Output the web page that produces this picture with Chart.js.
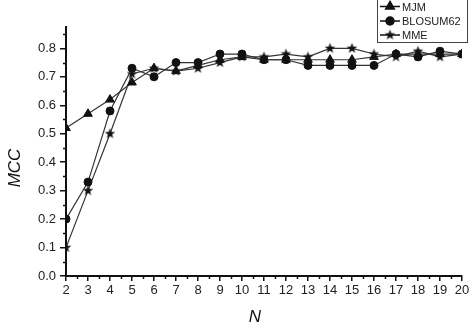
<!DOCTYPE html>
<html>
<head>
<meta charset="utf-8">
<script src="https://cdn.jsdelivr.net/npm/chart.js@4.4.1/dist/chart.umd.min.js"></script>
<style>
  html, body { margin: 0; padding: 0; background: #fff; }
  #wrap { width: 474px; height: 336px; }
</style>
</head>
<body>
<div id="wrap"><canvas id="chart" width="474" height="336"></canvas></div>
<script>
// valeurs
const nValues = [2, 3, 4, 5, 6, 7, 8, 9, 10, 11, 12, 13, 14, 15, 16, 17, 18, 19, 20];
const mjm = [0.52, 0.57, 0.62, 0.68, 0.73, 0.72, 0.74, 0.76, 0.77, 0.76, 0.76, 0.76, 0.76, 0.76, 0.77, 0.78, 0.78, 0.78, 0.78];
const blosum62 = [0.20, 0.33, 0.58, 0.73, 0.70, 0.75, 0.75, 0.78, 0.78, 0.76, 0.76, 0.74, 0.74, 0.74, 0.74, 0.78, 0.77, 0.79, 0.78];
const mme = [0.10, 0.30, 0.50, 0.71, 0.73, 0.72, 0.73, 0.75, 0.77, 0.77, 0.78, 0.77, 0.80, 0.80, 0.78, 0.77, 0.79, 0.77, 0.78];
const yTicks = [0, 0.1, 0.2, 0.3, 0.4, 0.5, 0.6, 0.7, 0.8];
const xMinor = [2.5, 3.5, 4.5, 5.5, 6.5, 7.5, 8.5, 9.5, 10.5, 11.5, 12.5, 13.5, 14.5, 15.5, 16.5, 17.5, 18.5, 19.5];
const yMinor = [0.05, 0.15, 0.25, 0.35, 0.45, 0.55, 0.65, 0.75, 0.85];

const INK = '#111';
const FONT = "'Liberation Sans', Arial, sans-serif";

// étoile pleine pour la série MME
function makeStar(r) {
  const size = r * 2 + 2;
  const c = document.createElement('canvas');
  c.width = size;
  c.height = size;
  const ctx = c.getContext('2d');
  ctx.fillStyle = INK;
  ctx.beginPath();
  for (let i = 0; i < 10; i++) {
    const rad = i % 2 === 0 ? r : r * 0.42;
    const a = -Math.PI / 2 + (i * Math.PI) / 5;
    const px = size / 2 + rad * Math.cos(a);
    const py = size / 2 + rad * Math.sin(a);
    if (i === 0) ctx.moveTo(px, py);
    else ctx.lineTo(px, py);
  }
  ctx.closePath();
  ctx.fill();
  return c;
}
const starImg = makeStar(5.5);

function toPoints(values) {
  return nValues.map((n, i) => ({ x: n, y: values[i] }));
}

function series(label, values, pointStyle, radius) {
  return {
    label,
    data: toPoints(values),
    borderColor: '#333',
    borderWidth: 1.2,
    backgroundColor: INK,
    pointBackgroundColor: INK,
    pointBorderColor: INK,
    pointStyle,
    pointRadius: radius,
    pointBorderWidth: 1,
    tension: 0,
    fill: false,
  };
}

// petites graduations, titres des axes et légende encadrée
const extrasPlugin = {
  id: 'extras',
  afterDraw(chart) {
    const ctx = chart.ctx;
    const xs = chart.scales.x;
    const ys = chart.scales.y;
    const area = chart.chartArea;

    ctx.save();
    ctx.strokeStyle = INK;
    ctx.lineWidth = 1.5;
    ctx.beginPath();
    xMinor.forEach((v) => {
      const px = Math.round(xs.getPixelForValue(v)) + 0.5;
      ctx.moveTo(px, area.bottom);
      ctx.lineTo(px, area.bottom + 3);
    });
    yMinor.forEach((v) => {
      const py = Math.round(ys.getPixelForValue(v)) + 0.5;
      ctx.moveTo(area.left, py);
      ctx.lineTo(area.left - 3, py);
    });
    ctx.stroke();

    // titres des axes
    ctx.fillStyle = INK;
    ctx.font = `italic 17px ${FONT}`;
    ctx.textAlign = 'center';
    ctx.textBaseline = 'middle';
    ctx.fillText('N', 255, 317);
    ctx.save();
    ctx.translate(15, 168);
    ctx.rotate(-Math.PI / 2);
    ctx.fillText('MCC', 0, 0);
    ctx.restore();

    // légende
    const box = { x: 377, y: -1, w: 90, h: 43 };
    ctx.fillStyle = '#fff';
    ctx.fillRect(box.x, box.y, box.w, box.h);
    ctx.strokeStyle = '#444';
    ctx.lineWidth = 1;
    ctx.strokeRect(box.x + 0.5, box.y + 0.5, box.w, box.h);

    const rows = [6.5, 21, 35];
    chart.data.datasets.forEach((ds, i) => {
      const y = rows[i];
      ctx.strokeStyle = INK;
      ctx.lineWidth = 1.5;
      ctx.beginPath();
      ctx.moveTo(380, y);
      ctx.lineTo(400, y);
      ctx.stroke();
      if (ds.pointStyle instanceof HTMLCanvasElement) {
        ctx.drawImage(ds.pointStyle, 390 - ds.pointStyle.width / 2, y - ds.pointStyle.height / 2);
      } else {
        Chart.helpers.drawPoint(ctx, { pointStyle: ds.pointStyle, radius: ds.pointRadius, rotation: 0, borderWidth: 1 }, 390, y);
        ctx.fillStyle = INK;
        ctx.fill();
      }
      ctx.fillStyle = '#222';
      ctx.font = `11px ${FONT}`;
      ctx.textAlign = 'left';
      ctx.textBaseline = 'middle';
      ctx.fillText(ds.label, 402, y + 1);
    });
    ctx.restore();
  },
};

const ctx = document.getElementById('chart').getContext('2d');
new Chart(ctx, {
  type: 'line',
  data: {
    datasets: [
      series('MJM', mjm, 'triangle', 5),
      series('BLOSUM62', blosum62, 'circle', 4),
      series('MME', mme, starImg, 5),
    ],
  },
  options: {
    responsive: false,
    animation: false,
    devicePixelRatio: 1,
    layout: { padding: { left: 0, top: 27, right: 12, bottom: 0 } },
    plugins: {
      legend: { display: false },
      tooltip: { enabled: false },
    },
    scales: {
      x: {
        type: 'linear',
        min: 2,
        max: 20,
        afterBuildTicks: (scale) => {
          scale.ticks = nValues.map((v) => ({ value: v }));
        },
        afterFit: (scale) => {
          scale.height = 60;
        },
        grid: { drawOnChartArea: false, drawTicks: true, tickLength: 5, color: INK, lineWidth: 1.5 },
        border: { display: true, color: INK, width: 2 },
        ticks: {
          color: '#222',
          font: { family: FONT, size: 13 },
          padding: 2,
          maxRotation: 0,
          autoSkip: false,
          callback: (v) => String(v),
        },
      },
      y: {
        min: 0,
        max: 0.875,
        afterBuildTicks: (scale) => {
          scale.ticks = yTicks.map((v) => ({ value: v }));
        },
        afterFit: (scale) => {
          scale.width = 66;
        },
        grid: { drawOnChartArea: false, drawTicks: true, tickLength: 6, color: INK, lineWidth: 1.5 },
        border: { display: true, color: INK, width: 2 },
        ticks: {
          color: '#222',
          font: { family: FONT, size: 13 },
          padding: 4,
          autoSkip: false,
          callback: (v) => v.toFixed(1),
        },
      },
    },
  },
  plugins: [extrasPlugin],
});
</script>
</body>
</html>
